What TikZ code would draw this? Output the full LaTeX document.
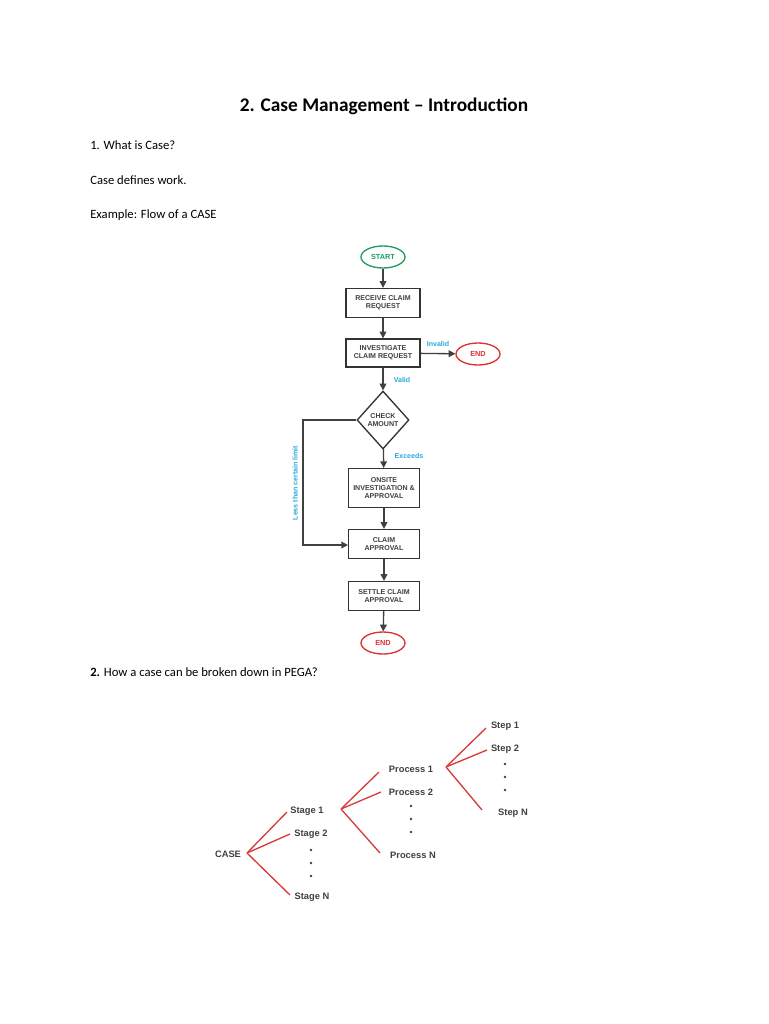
\documentclass[tikz,border=0pt]{standalone}
\usepackage{fontspec}
\setmainfont{Carlito}
\newfontfamily\fc{Liberation Sans}
\usetikzlibrary{shapes.geometric,arrows.meta}
\definecolor{sgreen}{RGB}{30,160,90}
\definecolor{sred}{RGB}{220,50,50}
\definecolor{sblue}{RGB}{40,170,220}
\definecolor{tred}{RGB}{215,60,60}
\begin{document}
\begin{tikzpicture}[x=0.75pt,y=-0.75pt,
  box/.style={draw=black!80,line width=1pt,minimum width=55.5pt,align=center,font=\fc\bfseries\fontsize{5.3}{6.3}\selectfont,text=black!75,inner sep=1pt},
  term/.style={ellipse,draw,line width=1pt,minimum width=33pt,minimum height=16.5pt,font=\fc\bfseries\fontsize{5.5}{6.5}\selectfont,inner sep=0pt},
  arr/.style={-{Triangle[length=5pt,width=5pt]},line width=1pt,draw=black!75},
  lab/.style={font=\fc\bfseries\fontsize{5.3}{6}\selectfont,text=sblue,inner sep=0pt},
  body/.style={anchor=west,font=\fontsize{9.5}{11}\selectfont,inner sep=0pt},
  tl/.style={font=\fc\bfseries\fontsize{7}{8}\selectfont,text=black!75,inner sep=0pt},
  br/.style={draw=tred,line width=1pt},
  dt/.style={circle,fill=black!75,inner sep=0pt,minimum size=2pt}]
\useasboundingbox (0,0) rectangle (768,1024);
\fill[white] (0,0) rectangle (768,1024);
\node[font=\bfseries\fontsize{14.5}{16}\selectfont] (title) at (384,106) {2. Case Management -- Introduction};
\node[body] (t1) at (90,145) {1. What is Case?};
\node[body] (t2) at (90,180) {Case defines work.};
\node[body] (t3) at (90,215) {Example: Flow of a CASE};
\node[body] (t4) at (90,672) {\textbf{2.} How a case can be broken down in PEGA?};
% flowchart
\node[term,draw=sgreen,text=sgreen] (start) at (383,257) {START};
\node[box,minimum height=21.75pt] (recv) at (383,303) {RECEIVE CLAIM\\REQUEST};
\node[box,minimum height=21pt] (inv) at (383,353) {INVESTIGATE\\CLAIM REQUEST};
\node[term,draw=sred,text=sred] (end1) at (478,354) {END};
\node[diamond,draw=black!80,line width=1pt,minimum width=39pt,minimum height=43.5pt,inner sep=0pt,align=center,font=\fc\bfseries\fontsize{5.3}{6.3}\selectfont,text=black!75] (chk) at (383,420) {CHECK\\AMOUNT};
\node[box,minimum height=29pt,minimum width=53pt] (ons) at (384,488) {ONSITE\\INVESTIGATION \&\\APPROVAL};
\node[box,minimum height=21.75pt,minimum width=53pt] (cla) at (384,544) {CLAIM\\APPROVAL};
\node[box,minimum height=21.75pt,minimum width=53pt] (set) at (384,596) {SETTLE CLAIM\\APPROVAL};
\node[term,draw=sred,text=sred] (end2) at (383,643) {END};
\draw[arr] (start) -- (recv);
\draw[arr] (recv) -- (inv);
\draw[arr] (inv) -- (end1);
\node[lab] (invl) at (438,344) {Invalid};
\draw[arr] (inv) -- (chk);
\node[lab] (vall) at (402,380) {Valid};
\draw[arr] (chk) -- (ons);
\node[lab] (excl) at (409,456) {Exceeds};
\draw[arr] (ons) -- (cla);
\draw[arr] (cla) -- (set);
\draw[arr] (set) -- (end2);
\coordinate (lt) at (303,420);
\coordinate (lb) at (303,545);
\draw[arr] (chk.west) -- (lt) -- (lb) -- (cla.west|-lb);
\node[lab,rotate=90] (less) at (295,483) {Less than certain limit};
% tree
\node[tl] (case) at (228,854) {CASE};
\node[tl] (s1) at (307,811) {Stage 1};
\node[tl] (s2) at (311,834) {Stage 2};
\node[dt] (sd1) at (311,850) {};
\node[dt] (sd2) at (311,863) {};
\node[dt] (sd3) at (311,876) {};
\node[tl] (sn) at (312,897) {Stage N};
\node[tl] (p1) at (411,769) {Process 1};
\node[tl] (p2) at (411,792) {Process 2};
\node[dt] (pd1) at (411,806) {};
\node[dt] (pd2) at (411,819) {};
\node[dt] (pd3) at (411,832) {};
\node[tl] (pn) at (413,855) {Process N};
\node[tl] (st1) at (505,726) {Step 1};
\node[tl] (st2) at (505,749) {Step 2};
\node[dt] (td1) at (505,764) {};
\node[dt] (td2) at (505,777) {};
\node[dt] (td3) at (505,790) {};
\node[tl] (stn) at (513,813) {Step N};
\coordinate (c0) at (247,853);
\draw[br] (c0) -- (287,812);
\draw[br] (c0) -- (290,834);
\draw[br] (c0) -- (290,895);
\coordinate (c1) at (341,809);
\draw[br] (c1) -- (379,772);
\draw[br] (c1) -- (381,792);
\draw[br] (c1) -- (380,853);
\coordinate (c2) at (446,767);
\draw[br] (c2) -- (486,728);
\draw[br] (c2) -- (487,750);
\draw[br] (c2) -- (482,810);
\end{tikzpicture}
\end{document}
